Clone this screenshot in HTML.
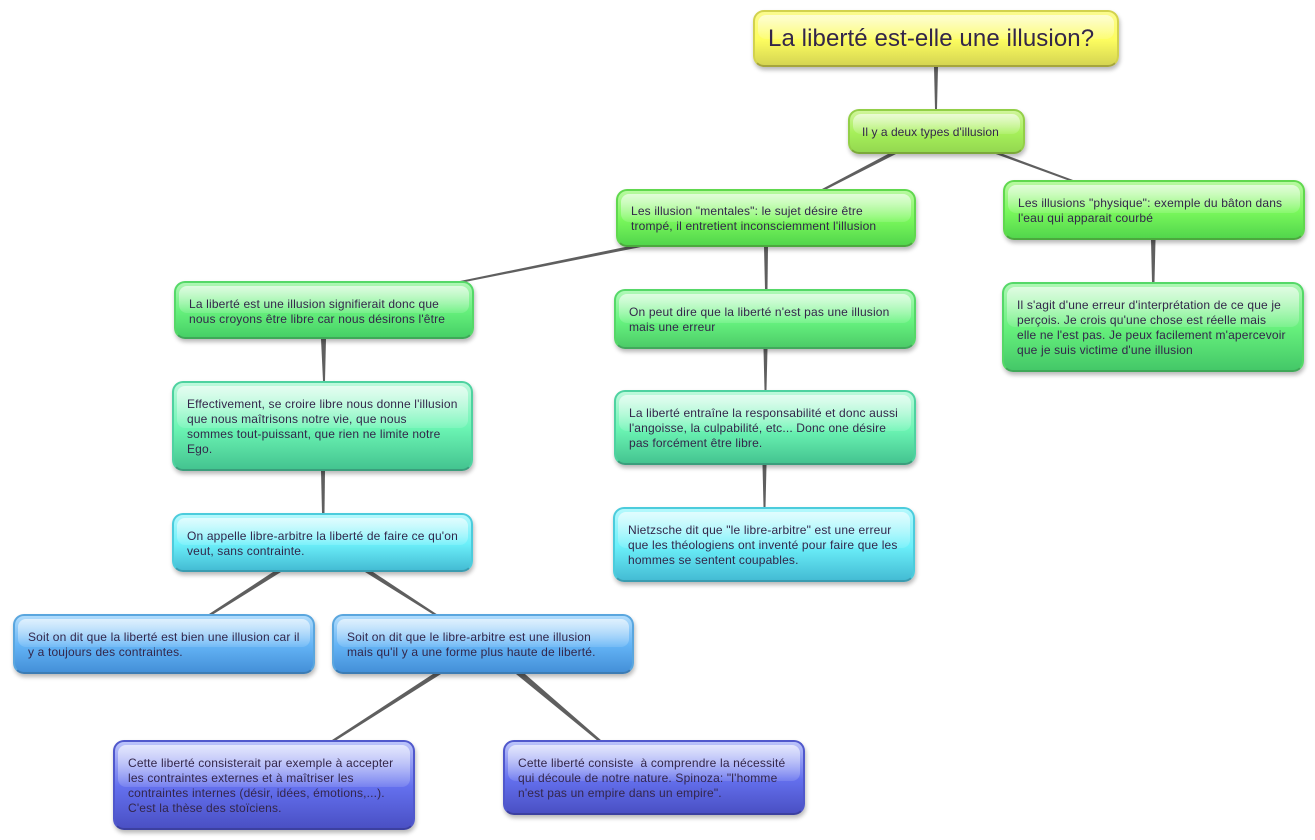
<!DOCTYPE html>
<html><head><meta charset="utf-8">
<style>
html,body{margin:0;padding:0;background:#fff;width:1315px;height:840px;overflow:hidden}
body{position:relative;font-family:"Liberation Sans",Arial,sans-serif}
svg{position:absolute;left:0;top:0}
.n{position:absolute;box-sizing:border-box;border-radius:11px;border:2px solid var(--b);
background:linear-gradient(to bottom,var(--a) 0%,var(--c) 52%,var(--d) 100%);
box-shadow:1px 3px 4px rgba(0,0,0,.28);color:#33264a;font-size:12px;line-height:15px;letter-spacing:.16px}
.n:before{content:"";position:absolute;left:3px;right:3px;top:3px;height:var(--g);border-radius:8px;
background:linear-gradient(to bottom,rgba(255,255,255,.62),rgba(255,255,255,.12))}
.n .t{position:absolute;left:13px;top:var(--t);white-space:pre}
</style></head><body>
<svg width="1315" height="840">
<g fill="#5f5f5f">
<polygon points="934,67 938,67 937,109 935,109"/>
<polygon points="888,154 896,154 825,190 822,189"/>
<polygon points="993,153 1003,154 1073,180 1070,181"/>
<polygon points="630,246 641,247 465,282 460,281"/>
<polygon points="764,247 768,247 767.5,289 765,289"/>
<polygon points="321,339 326,339 325,381 323,381"/>
<polygon points="763.5,349 767.5,349 766.5,390 764.5,390"/>
<polygon points="762.5,465 766.5,465 765.5,507 763.5,507"/>
<polygon points="321,471 325,471 324.5,513 322,513"/>
<polygon points="1151,240 1155.5,240 1154.5,282 1152,282"/>
<polygon points="273,572 281,572 212,615 209,614"/>
<polygon points="365,572 373,572 438,615 434,615"/>
<polygon points="433,674 441,674 335,741 332,740"/>
<polygon points="516,674 525,674 602,741 598,741"/>
</g>
</svg>

<div class="n" style="left:753px;top:10px;width:366px;height:57px;--b:#c9c84a;--a:#fbfb8e;--c:#fdfd60;--d:#d5d552;--g:24px;border-color:#d2d24e;border-bottom-color:#a5a53c;font-size:24px;line-height:28px;--t:13px;letter-spacing:.1px"><span class="t" style="left:13px">La liberté est-elle une illusion?</span></div>

<div class="n" style="left:848px;top:109px;width:177px;height:45px;--b:#8cc63f;--a:#d0f59a;--c:#a6f05a;--d:#94d850;--g:20px;border-color:#93cf48;border-bottom-color:#7ba83a;--t:14px;letter-spacing:.04px"><span class="t" style="left:12px">Il y a deux types d'illusion</span></div>

<div class="n" style="left:616px;top:189px;width:300px;height:58px;--b:#5fd04a;--a:#b8f9a0;--c:#7af85c;--d:#52d64c;--g:28px;border-color:#60d84e;border-bottom-color:#4ba83e;--t:13px"><span class="t">Les illusion "mentales": le sujet désire être
trompé, il entretient inconsciemment l'illusion</span></div>

<div class="n" style="left:1003px;top:180px;width:302px;height:60px;--b:#5fd04a;--a:#b8f9a0;--c:#7af85c;--d:#52d64c;--g:28px;border-color:#60d84e;border-bottom-color:#4ba83e;--t:14px"><span class="t">Les illusions "physique": exemple du bâton dans
l'eau qui apparait courbé</span></div>

<div class="n" style="left:174px;top:281px;width:300px;height:58px;--b:#4fcf68;--a:#aef7b4;--c:#66f07c;--d:#46d066;--g:27px;border-color:#55d868;border-bottom-color:#3fa858;--t:14px"><span class="t">La liberté est une illusion signifierait donc que
nous croyons être libre car nous désirons l'être</span></div>

<div class="n" style="left:614px;top:289px;width:302px;height:60px;--b:#4fcf68;--a:#b0f9b8;--c:#68f480;--d:#4ccc68;--g:29px;border-color:#55d868;border-bottom-color:#42a85c;--t:14px"><span class="t">On peut dire que la liberté n'est pas une illusion
mais une erreur</span></div>

<div class="n" style="left:1002px;top:282px;width:302px;height:90px;--b:#4fcf68;--a:#aef7b4;--c:#66f07c;--d:#44c868;--g:40px;border-color:#55d868;border-bottom-color:#3fa858;--t:14px"><span class="t">Il s'agit d'une erreur d'interprétation de ce que je
perçois. Je crois qu'une chose est réelle mais
elle ne l'est pas. Je peux facilement m'apercevoir
que je suis victime d'une illusion</span></div>

<div class="n" style="left:172px;top:381px;width:301px;height:90px;--b:#45c89a;--a:#bdf9dc;--c:#6cf5b4;--d:#44c490;--g:42px;border-color:#4ed2a0;border-bottom-color:#3a9e7c;--t:14px"><span class="t">Effectivement, se croire libre nous donne l'illusion
que nous maîtrisons notre vie, que nous
sommes tout-puissant, que rien ne limite notre
Ego.</span></div>

<div class="n" style="left:614px;top:390px;width:302px;height:75px;--b:#45c89a;--a:#bdf9dc;--c:#6cf5b4;--d:#44c490;--g:36px;border-color:#4ed2a0;border-bottom-color:#3a9e7c;--t:14px"><span class="t">La liberté entraîne la responsabilité et donc aussi
l'angoisse, la culpabilité, etc... Donc one désire
pas forcément être libre.</span></div>

<div class="n" style="left:172px;top:513px;width:301px;height:59px;--b:#45c0d8;--a:#b4f8fc;--c:#6cf0fa;--d:#44bcd4;--g:27px;border-color:#4cccdc;border-bottom-color:#3a9cb0;--t:14px"><span class="t">On appelle libre-arbitre la liberté de faire ce qu'on
veut, sans contrainte.</span></div>

<div class="n" style="left:613px;top:507px;width:302px;height:75px;--b:#45c0d8;--a:#b4f8fc;--c:#6cf0fa;--d:#44bcd4;--g:36px;border-color:#4cccdc;border-bottom-color:#3a9cb0;--t:14px"><span class="t">Nietzsche dit que "le libre-arbitre" est une erreur
que les théologiens ont inventé pour faire que les
hommes se sentent coupables.</span></div>

<div class="n" style="left:13px;top:614px;width:302px;height:60px;--b:#4c9ad8;--a:#b0dcfc;--c:#64b4f6;--d:#4490d8;--g:28px;border-color:#5aa6de;border-bottom-color:#3c7cb4;--t:14px"><span class="t">Soit on dit que la liberté est bien une illusion car il
y a toujours des contraintes.</span></div>

<div class="n" style="left:332px;top:614px;width:302px;height:60px;--b:#4c9ad8;--a:#b0dcfc;--c:#64b4f6;--d:#4490d8;--g:28px;border-color:#5aa6de;border-bottom-color:#3c7cb4;--t:14px"><span class="t">Soit on dit que le libre-arbitre est une illusion
mais qu'il y a une forme plus haute de liberté.</span></div>

<div class="n" style="left:113px;top:740px;width:302px;height:90px;--b:#4a50c8;--a:#bcc4fa;--c:#6470ee;--d:#4a50c4;--g:42px;border-color:#5058cc;border-bottom-color:#3c40a0;--t:14px"><span class="t">Cette liberté consisterait par exemple à accepter
les contraintes externes et à maîtriser les
contraintes internes (désir, idées, émotions,...).
C'est la thèse des stoïciens.</span></div>

<div class="n" style="left:503px;top:740px;width:302px;height:75px;--b:#4a50c8;--a:#bcc4fa;--c:#6470ee;--d:#4a50c4;--g:36px;border-color:#5058cc;border-bottom-color:#3c40a0;--t:14px"><span class="t">Cette liberté consiste  à comprendre la nécessité
qui découle de notre nature. Spinoza: "l'homme
n'est pas un empire dans un empire".</span></div>
</body></html>
